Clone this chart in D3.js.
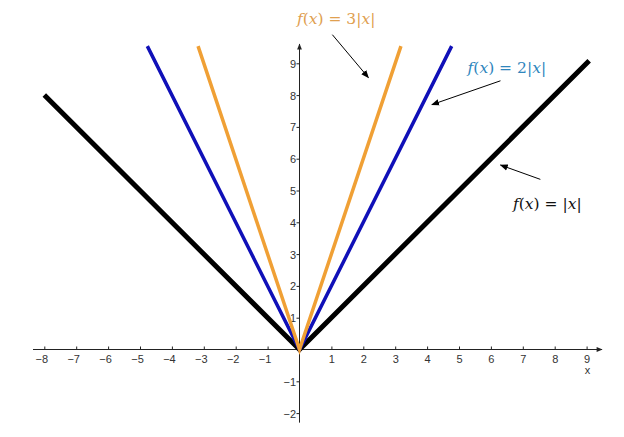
<!DOCTYPE html>
<html><head><meta charset="utf-8">
<script src="https://cdn.jsdelivr.net/npm/d3@7"></script>
<style>
html,body{margin:0;padding:0;background:#fff;}
svg{display:block;}
.tick text{font-family:"Liberation Sans",Arial,sans-serif;font-size:11px;fill:#333;}
.lab{font-family:"DejaVu Serif","Liberation Serif",serif;font-size:15.5px;}
</style>
</head><body>
<svg id="c" width="624" height="437"></svg>
<script>
// Tick values
const xTicks = [-8,-7,-6,-5,-4,-3,-2,-1,1,2,3,4,5,6,7,8,9];
const yTicks = [-2,-1,1,2,3,4,5,6,7,8,9];
// Series: points (x, y)
const absX  = [{x:-8,y:8},{x:0,y:0},{x:9.08,y:9.08}];
const twoAbsX = [{x:-4.77,y:9.54},{x:0,y:0},{x:4.77,y:9.54}];
const threeAbsX = [{x:-3.18,y:9.54},{x:0,y:0},{x:3.18,y:9.54}];
const seriesNames = ["f(x) = |x|","f(x) = 2|x|","f(x) = 3|x|"];
const seriesColors = ["#000000","#1010b8","#f0a035"];
const labelColors = ["#111111","#2f86bd","#e0a050"];

const svg = d3.select("#c");
const x = d3.scaleLinear().domain([-8,9]).range([44.3,586.6]);
const y = d3.scaleLinear().domain([0,9]).range([349.5,63.3]);

// arrow marker
const defs = svg.append("defs");
defs.append("marker").attr("id","ah").attr("viewBox","0 0 10 10").attr("refX",9).attr("refY",5)
  .attr("markerWidth",8).attr("markerHeight",8).attr("markerUnits","userSpaceOnUse").attr("orient","auto")
  .append("path").attr("d","M0,1 L10,5 L0,9 Z").attr("fill","#000");
defs.append("marker").attr("id","axh").attr("viewBox","0 0 10 10").attr("refX",9).attr("refY",5)
  .attr("markerWidth",7).attr("markerHeight",6).attr("markerUnits","userSpaceOnUse").attr("orient","auto")
  .append("path").attr("d","M0,1 L10,5 L0,9 Z").attr("fill","#222");

// axes
const fmt = d => d < 0 ? "\u2212" + Math.abs(d) : String(d);
const gx = svg.append("g").attr("transform",`translate(0,${y(0)})`)
  .call(d3.axisTop(x).tickValues(xTicks).tickSize(3).tickSizeOuter(0).tickFormat(fmt));
gx.select(".domain").remove();
gx.selectAll(".tick line").attr("stroke","#222");
gx.selectAll(".tick text").attr("y",10).attr("dy","0.32em").attr("transform", d => d<0 ? "translate(-3,0)" : null);

const gy = svg.append("g").attr("transform",`translate(${x(0)},0)`)
  .call(d3.axisLeft(y).tickValues(yTicks).tickSize(3).tickSizeOuter(0).tickFormat(fmt));
gy.select(".domain").remove();
gy.selectAll(".tick line").attr("stroke","#222");
gy.selectAll(".tick text").attr("x",-3.5).attr("dy","0.36em");

svg.append("line").attr("x1",33).attr("x2",602).attr("y1",y(0)).attr("y2",y(0))
  .attr("stroke","#222").attr("stroke-width",1).attr("marker-end","url(#axh)");
svg.append("line").attr("x1",x(0)).attr("x2",x(0)).attr("y1",y(-2.3)).attr("y2",44)
  .attr("stroke","#222").attr("stroke-width",1).attr("marker-end","url(#axh)");
svg.append("text").attr("x",x(9)+1).attr("y",y(0)+24).attr("text-anchor","middle")
  .attr("font-family","Liberation Sans,Arial,sans-serif").attr("font-size",11).attr("fill","#333").text("x");

// lines
const line = d3.line().x(d=>x(d.x)).y(d=>y(d.y));
const series = [absX, twoAbsX, threeAbsX];
const widths = [5,3.5,3.5];
series.forEach((s,i)=>{
  svg.append("path").datum(s).attr("d",line).attr("fill","none")
    .attr("stroke",seriesColors[i]).attr("stroke-width",widths[i])
    .attr("stroke-linejoin","miter").attr("stroke-linecap","butt");
});

// labels (positions in data units)
const labels = [
  {i:0, lx:7.77, ly:4.6, ax1:7.55, ay1:5.35, ax2:6.3, ay2:5.8},
  {i:1, lx:6.5, ly:8.85, ax1:6.3, ay1:8.45, ax2:4.15, ay2:7.7},
  {i:2, lx:1.15, ly:10.4, ax1:1.03, ay1:9.9, ax2:2.16, ay2:8.55}
];
labels.forEach(l=>{
  const t = svg.append("text").attr("class","lab").attr("x",x(l.lx)).attr("y",y(l.ly))
    .attr("text-anchor","middle").attr("dy","0.35em").attr("fill",labelColors[l.i]);
  const parts = seriesNames[l.i].split(/(x|f)/);
  parts.forEach(p=>{
    if(!p) return;
    const ts = t.append("tspan").text(p);
    if(p==="x"||p==="f") ts.attr("font-style","italic");
  });
  svg.append("line").attr("x1",x(l.ax1)).attr("y1",y(l.ay1)).attr("x2",x(l.ax2)).attr("y2",y(l.ay2))
    .attr("stroke","#000").attr("stroke-width",1).attr("marker-end","url(#ah)");
});
</script>
</body></html>
